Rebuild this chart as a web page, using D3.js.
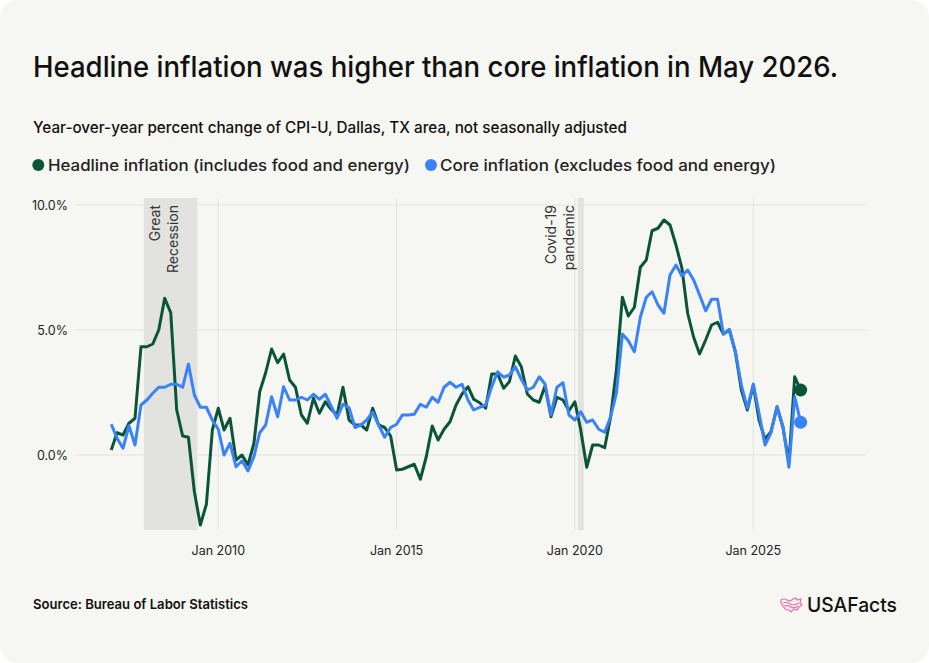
<!DOCTYPE html>
<html><head><meta charset="utf-8">
<script src="https://cdn.jsdelivr.net/npm/d3@7/dist/d3.min.js"></script>
<style>
html,body{margin:0;padding:0;background:#ffffff;}
svg{display:block;}
text{font-family:Inter,"Noto Sans",sans-serif;}
</style></head>
<body>
<svg id="chart" width="929" height="663"></svg>
<script>
// ---- data (bimonthly, Jan 2007 .. May 2026) ----
const startYear = 2007;
const headline = [
 0.2,0.89,0.8,1.27,1.47,4.33,
 4.33,4.44,5.0,6.27,5.69,1.8,
 0.76,0.71,-1.47,-2.8,-1.97,1.0,
 1.87,1.0,1.47,-0.2,0.0,-0.4,
 0.47,2.53,3.29,4.24,3.69,4.04,
 3.0,2.71,1.6,1.27,2.27,1.67,
 2.13,1.83,1.6,2.71,1.4,1.2,
 1.2,1.0,1.87,1.2,1.1,0.76,
 -0.6,-0.57,-0.47,-0.37,-0.97,-0.07,
 1.16,0.6,1.03,1.33,2.0,2.44,
 2.73,2.23,2.09,1.87,3.24,3.24,
 2.67,2.93,3.96,3.53,2.44,2.2,
 2.11,2.76,1.53,2.31,2.2,1.77,
 2.13,1.0,-0.49,0.4,0.4,0.29,
 1.53,3.4,6.31,5.56,5.91,7.51,
 7.8,8.97,9.07,9.4,9.2,8.4,
 7.47,5.67,4.71,4.04,4.6,5.2,
 5.31,4.84,5.0,4.13,2.6,1.8,
 2.8,1.4,0.63,0.93,1.93,1.1,
 -0.31,3.13,2.6
];
const core = [
 1.23,0.67,0.27,1.17,0.4,2.0,
 2.2,2.47,2.71,2.71,2.83,2.83,
 2.71,3.64,2.4,1.91,1.91,1.4,
 1.03,0.0,0.47,-0.47,-0.23,-0.64,
 -0.07,0.89,1.2,2.33,1.53,2.73,
 2.2,2.2,2.31,2.2,2.43,2.23,
 2.43,1.96,1.47,2.03,1.89,1.1,
 1.2,1.4,1.71,1.2,0.71,1.1,
 1.23,1.6,1.6,1.63,2.03,1.91,
 2.31,2.11,2.71,2.91,2.71,2.83,
 2.2,1.8,1.91,2.0,2.73,3.33,
 3.11,3.2,3.53,3.03,2.6,2.71,
 3.13,2.84,1.6,2.71,2.89,1.6,
 1.4,1.73,1.31,1.4,1.03,0.91,
 1.53,2.47,4.84,4.57,4.13,5.51,
 6.31,6.53,6.0,5.67,7.2,7.6,
 7.16,7.4,7.0,6.4,5.77,6.23,
 6.23,4.84,5.03,4.13,2.8,1.87,
 2.84,1.67,0.4,0.89,1.93,1.13,
 -0.49,2.33,1.31
];
const yTicks = [0, 5, 10];
const xTickYears = [2010, 2015, 2020, 2025];
const bands = [
  {start:[2007,11], end:[2009,5], label:["Great","Recession"]},
  {start:[2020,1], end:[2020,3], label:["Covid-19","pandemic"]}
];
const seriesNames = ["Headline inflation (includes food and energy)", "Core inflation (excludes food and energy)"];
const colors = ["#0a5439", "#3a82f7"];

const dates = headline.map((d,i)=> new Date(startYear, i*2, 1));

// ---- drawing ----
const svg = d3.select("#chart");
svg.append("rect").attr("x",0).attr("y",0).attr("width",929).attr("height",663)
  .attr("rx",18).attr("fill","#f6f6f2");

const x = d3.scaleTime().domain([new Date(2010,0,1), new Date(2025,0,1)]).range([218.3, 753.3]);
const y = d3.scaleLinear().domain([0,10]).range([455,205]);
const plotTop = 198, plotBottom = 530, gridLeft = 76, gridRight = 866;

// bands
bands.forEach(b=>{
  const x0 = x(new Date(b.start[0], b.start[1], 1)), x1 = x(new Date(b.end[0], b.end[1], 1));
  svg.append("rect").attr("x",x0).attr("y",plotTop).attr("width",x1-x0).attr("height",plotBottom-plotTop)
    .attr("fill","#e2e2de");
});

// grid
svg.append("g").selectAll("line").data(yTicks).join("line")
  .attr("x1",gridLeft).attr("x2",gridRight).attr("y1",d=>y(d)).attr("y2",d=>y(d))
  .attr("stroke","#e3e3df").attr("stroke-width",1);
svg.append("g").selectAll("line").data(xTickYears).join("line")
  .attr("x1",d=>x(new Date(d,0,1))).attr("x2",d=>x(new Date(d,0,1)))
  .attr("y1",plotTop).attr("y2",plotBottom)
  .attr("stroke","#e3e3df").attr("stroke-width",1);

// band labels
bands.forEach((b,bi)=>{
  const x0 = x(new Date(b.start[0], b.start[1], 1));
  const offs = bi===0 ? [16,34] : [-22,-4];
  b.label.forEach((t,i)=>{
    svg.append("text").attr("transform",`translate(${x0+offs[i]},205) rotate(-90)`)
      .attr("text-anchor","end").attr("font-size",14).attr("fill","#333")
      .text(t);
  });
});

// axes labels
svg.append("g").selectAll("text").data(yTicks).join("text")
  .attr("x",68).attr("y",d=>y(d)+4.5).attr("text-anchor","end")
  .attr("font-size",12.5).attr("fill","#222").text(d=>d3.format(".1f")(d)+"%");
svg.append("g").selectAll("text").data(xTickYears).join("text")
  .attr("x",d=>x(new Date(d,0,1))).attr("y",555).attr("text-anchor","middle")
  .attr("font-size",12.5).attr("fill","#222").text(d=>"Jan "+d);

// lines
const line = d3.line().x((d,i)=>x(dates[i])).y(d=>y(d));
[headline, core].forEach((s,si)=>{
  svg.append("path").datum(s).attr("d",line).attr("fill","none")
    .attr("stroke",colors[si]).attr("stroke-width",3).attr("stroke-linejoin","round");
});
[headline, core].forEach((s,si)=>{
  const n = s.length-1;
  svg.append("circle").attr("cx",x(dates[n])).attr("cy",y(s[n])).attr("r",6.5).attr("fill",colors[si]);
});

// title etc.
svg.append("text").attr("x",33).attr("y",77).attr("font-size",29).attr("font-weight",500)
  .attr("fill","#111").attr("textLength",805).attr("lengthAdjust","spacingAndGlyphs")
  .text("Headline inflation was higher than core inflation in May 2026.");
svg.append("text").attr("x",33).attr("y",133).attr("font-size",15.5).attr("font-weight",500)
  .attr("fill","#111").attr("textLength",594).attr("lengthAdjust","spacingAndGlyphs")
  .text("Year-over-year percent change of CPI-U, Dallas, TX area, not seasonally adjusted");

// legend
const leg = [{cx:38.3, tx:48, len:362},{cx:431, tx:440, len:336}];
leg.forEach((l,i)=>{
  svg.append("circle").attr("cx",l.cx).attr("cy",165).attr("r",6).attr("fill",colors[i]);
  svg.append("text").attr("x",l.tx).attr("y",170.5).attr("font-size",15.5).attr("font-weight",500)
    .attr("fill","#222").attr("textLength",l.len).attr("lengthAdjust","spacingAndGlyphs").text(seriesNames[i]);
});

// source
svg.append("text").attr("x",33).attr("y",609).attr("font-size",13.5).attr("font-weight",600)
  .attr("fill","#111").attr("textLength",215).attr("lengthAdjust","spacingAndGlyphs")
  .text("Source: Bureau of Labor Statistics");

// logo
const lg = svg.append("g").attr("transform","translate(780,597)");
lg.append("path").attr("d","M1,3 Q4,1 7,3 Q10,5 13,2 L16,1 L17,3 L21,2 L20,6 L22,8 L19,10 L17,13 L14,12 L11,15 L9,13 L5,12 L3,9 L1,6 Z")
  .attr("fill","none").attr("stroke","#f06ba8").attr("stroke-width",1.2);
lg.append("path").attr("d","M3,6 Q7,4 10,7 Q14,9 19,6 M4,9 Q8,8 11,10 Q14,12 18,9")
  .attr("fill","none").attr("stroke","#f06ba8").attr("stroke-width",1.1);
svg.append("text").attr("x",807).attr("y",612).attr("font-size",20).attr("font-weight",500)
  .attr("fill","#111").attr("textLength",90).attr("lengthAdjust","spacingAndGlyphs").text("USAFacts");
</script>
</body></html>
